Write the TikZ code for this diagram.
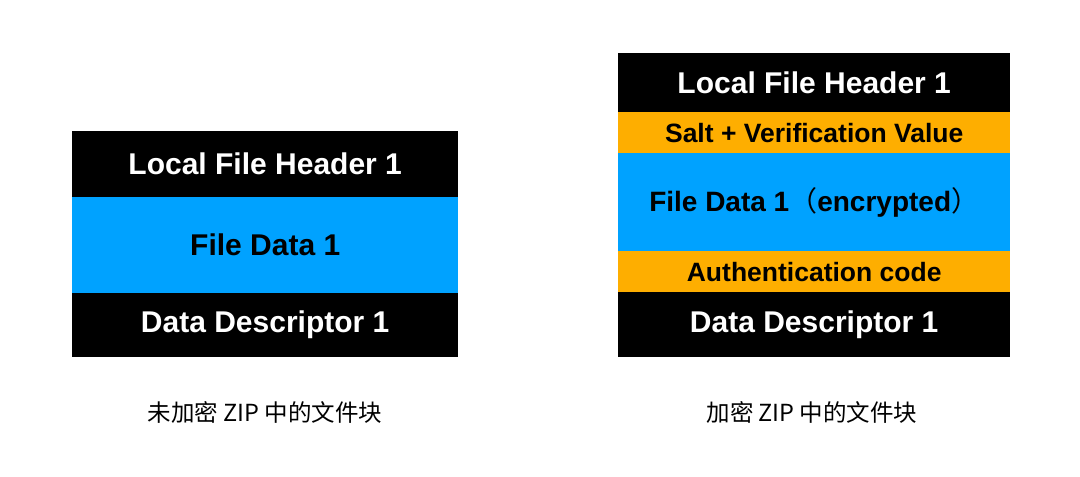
\documentclass[tikz,border=0pt]{standalone}
\usepackage{fontspec}
\setmainfont{Liberation Sans}
\newfontfamily\cjk{Noto Sans CJK SC}
\definecolor{zblue}{RGB}{0,162,255}
\definecolor{zorange}{RGB}{254,174,0}
\begin{document}
\begin{tikzpicture}[x=1pt,y=-1pt,
  blk/.style={draw=none,anchor=north west,inner sep=0pt,font=\bfseries\fontsize{30}{34}\selectfont},
  blackbox/.style={blk,fill=black,text=white},
  bluebox/.style={blk,fill=zblue,text=black},
  orangebox/.style={blk,fill=zorange,text=black,font=\bfseries\fontsize{26.5}{30}\selectfont},
  captext/.style={font=\cjk\fontsize{23.5}{28}\selectfont}]
\useasboundingbox[fill=white] (0,0) rectangle (1080,477);
% left
\node[blackbox,minimum width=386pt,minimum height=66pt] (l1) at (72,131) {Local File Header 1};
\node[bluebox,minimum width=386pt,minimum height=96pt] (l2) at (72,197) {File Data 1};
\node[blackbox,minimum width=386pt,minimum height=64pt] (l3) at (72,293) {Data Descriptor 1};
\node[captext] (lc) at (265,412) {未加密 ZIP 中的文件块};
% right
\node[blackbox,minimum width=392pt,minimum height=59pt] (r1) at (618,53) {Local File Header 1};
\node[orangebox,minimum width=392pt,minimum height=41pt] (r2) at (618,112) {Salt + Verification Value};
\node[bluebox,minimum width=392pt,minimum height=98pt,font=\bfseries\fontsize{28}{32}\selectfont] (r3) at (618,153) {File Data 1{\cjk\mdseries （}encrypted{\cjk\mdseries ）}};
\node[orangebox,minimum width=392pt,minimum height=41pt] (r4) at (618,251) {Authentication code};
\node[blackbox,minimum width=392pt,minimum height=65pt] (r5) at (618,292) {Data Descriptor 1};
\node[captext] (rc) at (812,412) {加密 ZIP 中的文件块};
\end{tikzpicture}
\end{document}
